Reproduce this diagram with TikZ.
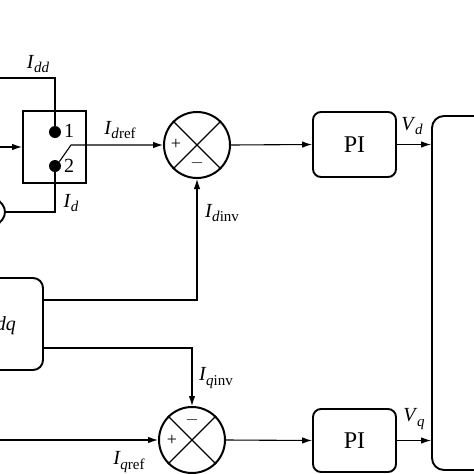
\documentclass[tikz,border=0pt]{standalone}
\usepackage{fontspec}
\setmainfont{Liberation Serif}
\usetikzlibrary{arrows.meta,shapes.geometric}
\newcommand{\vlab}[3]{\textit{#1}\kern-0.3pt\raisebox{-0.5ex}{\fontsize{15}{15}\selectfont\textit{#2}#3}}
\tikzset{
  conn/.style={line width=1.1pt,-{Latex[length=10pt,width=6.5pt]}},
  wire/.style={line width=1.1pt},
  blk/.style={draw,line width=1.9pt,rounded corners=8pt,inner sep=0pt,font=\fontsize{24}{24}\selectfont},
  swbox/.style={draw,line width=1.9pt,inner sep=0pt},
  sumc/.style={circle,draw,line width=2pt,minimum size=66pt,inner sep=0pt},
  dot/.style={circle,fill,minimum size=12pt,inner sep=0pt},
  lab/.style={font=\fontsize{20}{20}\selectfont,inner sep=0pt},
  sgn/.style={font=\fontsize{18}{18}\selectfont,inner sep=0pt}
}
\begin{document}
\begin{tikzpicture}[x=1pt,y=-1pt]
\useasboundingbox (0,0) rectangle (474,474);
% switch
\node[swbox,minimum width=63pt,minimum height=72pt] (sw) at (54.5,147) {};
\node[dot] (d1) at (55,132) {};
\node[dot] (d2) at (55,166) {};
\node[lab] (n1) at (69,131) {1};
\node[lab] (n2) at (69,166) {2};
\coordinate (arm) at (71,145);
\coordinate (ddL) at (0,78);
\coordinate (inL) at (0,147);
% partial ellipse
\node[ellipse,draw,line width=1.9pt,minimum width=70pt,minimum height=40pt] (ell) at (-30,212) {};
% sum d
\node[sumc] (sd) at (197,145) {};
\draw[wire] (sd.north west) -- (sd.south east) (sd.north east) -- (sd.south west);
\node[sgn] (pd) at (176,144) {+};
\node[sgn] (md) at (197,163) {$-$};
% sum q
\node[sumc] (sq) at (192,440) {};
\draw[wire] (sq.north west) -- (sq.south east) (sq.north east) -- (sq.south west);
\node[sgn] (pq) at (172,440) {+};
\node[sgn] (mq) at (192,420) {$-$};
% PI boxes
\node[blk,minimum width=83pt,minimum height=65pt] (pid) at (354.5,144.5) {PI};
\node[blk,minimum width=83pt,minimum height=63pt] (piq) at (354.5,440.5) {PI};
% big box
\node[draw,line width=1.9pt,rounded corners=12pt,inner sep=0pt,minimum width=100pt,minimum height=354pt] (big) at (482,293) {};
% dq box
\node[draw,line width=1.9pt,rounded corners=10pt,inner sep=0pt,minimum width=103pt,minimum height=92pt] (dq) at (-8.5,324) {};
\node[lab,anchor=east] (dqt) at (16,326) {\textit{dq}};
\coordinate (qrefL) at (0,440);
% connectors
\draw[wire] (ddL) -| (d1);
\draw[conn] (inL) -- (sw.west);
\draw[wire] (d2) |- (ell.east);
\draw[conn] (d2.north east) -- (arm) -- (sd.west);
\draw[conn] (sd.east) -- (pid.west);
\draw[conn] (pid.east) -- (big.west |- pid.east);
\draw[conn] (dq.east |- 0,300) -| (sd.south);
\draw[conn] (dq.east |- 0,348) -| (sq.north);
\draw[conn] (qrefL) -- (sq.west);
\draw[conn] (sq.east) -- (piq.west);
\draw[conn] (piq.east) -- (big.west |- piq.east);
% labels
\node[lab] (lidd) at (38,64) {\vlab{I}{dd}{}};
\node[lab] (lidref) at (120,130) {\vlab{I}{d}{ref}};
\node[lab] (lid) at (71,203) {\vlab{I}{d}{}};
\node[lab] (lidinv) at (222,213) {\vlab{I}{d}{inv}};
\node[lab] (liqinv) at (216,378) {\vlab{I}{q}{inv}};
\node[lab] (liqref) at (129,462) {\vlab{I}{q}{ref}};
\node[lab] (lvd) at (412,126) {\vlab{V}{d}{}};
\node[lab] (lvq) at (414,419) {\vlab{V}{q}{}};
\end{tikzpicture}
\end{document}
